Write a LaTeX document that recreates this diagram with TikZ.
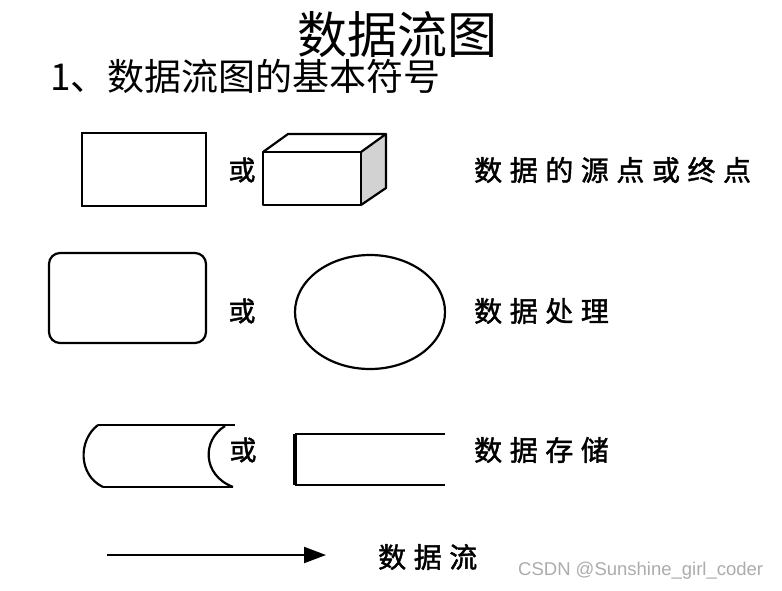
\documentclass[tikz,border=0pt]{standalone}
\usepackage{fontspec}
\usetikzlibrary{shapes.geometric,arrows.meta}
\newfontfamily\cjk{Noto Sans CJK SC}
\newfontfamily\cjkspaced{Noto Sans CJK SC}[LetterSpace=27,FakeBold=1.5]
\setmainfont{Liberation Sans}
\begin{document}
\begin{tikzpicture}[x=1pt,y=-1pt,
  shp/.style={draw=black,line width=2.2pt},
  lbl/.style={font=\cjkspaced\fontsize{28}{28}\selectfont,anchor=west,inner sep=0pt},
  huo/.style={font=\cjkspaced\fontsize{27}{27}\selectfont,inner sep=0pt}]
\useasboundingbox[fill=white] (0,0) rectangle (782,590);
% titles
\node[font=\cjk\fontsize{50}{50}\selectfont,inner sep=0pt] (title) at (397,35) {数据流图};
\node[font=\cjk\fontsize{37}{37}\selectfont,anchor=west,inner sep=0pt] (sub) at (50,76) {1、数据流图的基本符号};
% row 1
\node[shp,minimum width=124pt,minimum height=73pt,inner sep=0pt] (src1) at (144,169.5) {};
\node[huo] (or1) at (242,170) {或};
\coordinate (cA) at (263,152);
\coordinate (cB) at (361,152);
\coordinate (cC) at (361,205);
\coordinate (cD) at (263,205);
\coordinate (cE) at (288,134);
\coordinate (cF) at (386,134);
\coordinate (cG) at (386,188);
\fill[gray!35] (cB) -- (cF) -- (cG) -- (cC) -- cycle;
\draw[shp,line join=round] (cA) rectangle (cC);
\draw[shp,line join=round] (cA) -- (cE) -- (cF) -- (cB);
\draw[shp,line join=round] (cF) -- (cG) -- (cC);
\node[lbl] (l1) at (474,170) {数据的源点或终点};
% row 2
\node[shp,rounded corners=11pt,minimum width=157pt,minimum height=90pt,inner sep=0pt] (proc1) at (127.5,298) {};
\node[huo] (or2) at (242,311) {或};
\node[shp,ellipse,minimum width=150pt,minimum height=114pt,inner sep=0pt] (proc2) at (370,312) {};
\node[lbl] (l2) at (474,311) {数据处理};
% row 3
\coordinate (sA) at (98,425);
\coordinate (sB) at (235,425);
\coordinate (sC) at (103,487);
\coordinate (sD) at (233,487);
\coordinate (sE) at (225,426);
\draw[shp] (sA) -- (sB);
\draw[shp] (sC) -- (sD);
\draw[shp] (sA) .. controls (78,440) and (78,475) .. (sC);
\draw[shp] (sE) .. controls (202,440) and (202,475) .. (sD);
\node[huo] (or3) at (243,450) {或};
\coordinate (tA) at (445,434);
\coordinate (tB) at (295,434);
\coordinate (tC) at (295,485);
\coordinate (tD) at (445,485);
\draw[shp] (tA) -- (tB);
\draw[line width=3.5pt] (tB) -- (tC);
\draw[shp] (tC) -- (tD);
\node[lbl] (l3) at (474,450) {数据存储};
% row 4
\coordinate (aS) at (107,555);
\coordinate (aE) at (326,555);
\draw[line width=2.2pt,-{Triangle[length=22pt,width=16pt]}] (aS) -- (aE);
\node[lbl] (l4) at (378,557) {数据流};
\node[font=\fontsize{18.5}{18.5}\selectfont,text=gray!65,anchor=west,inner sep=0pt] (wm) at (518,571) {CSDN @Sunshine\_girl\_coder};
\end{tikzpicture}
\end{document}
